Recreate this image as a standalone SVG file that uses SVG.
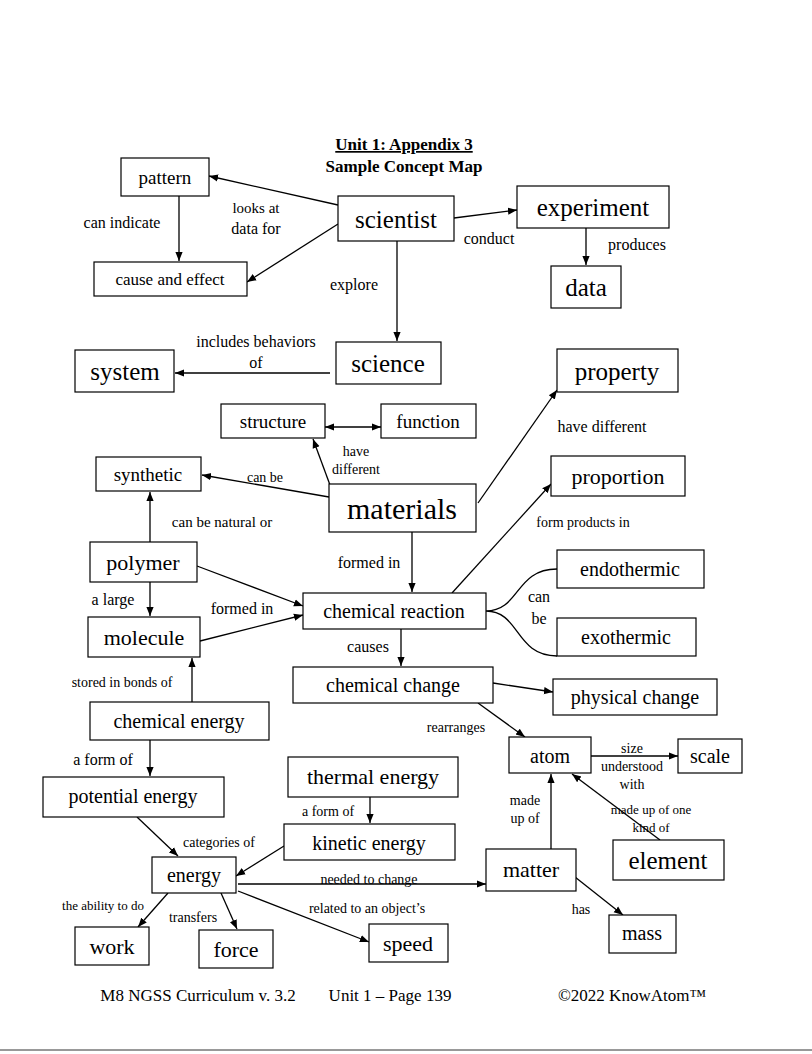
<svg xmlns="http://www.w3.org/2000/svg" width="812" height="1054" viewBox="0 0 812 1054">
<defs><marker id="a" viewBox="0 0 10 10" refX="10" refY="5" markerWidth="7" markerHeight="7" orient="auto-start-reverse"><path d="M0,1 L10,5 L0,9 z" fill="#000"/></marker></defs>
<style>
text{font-family:"Liberation Serif","DejaVu Serif",serif;fill:#000;text-anchor:middle}
.n rect{fill:#fff;stroke:#000;stroke-width:1.2}
.l{font-size:15px}
#c line,#c path{stroke:#000;stroke-width:1.3;fill:none}
#c line{marker-end:url(#a)}
</style>
<rect width="812" height="1054" fill="#fff"/>
<text x="404" y="150" font-size="17" font-weight="bold" text-decoration="underline">Unit 1: Appendix 3</text>
<text x="404" y="172" font-size="17" font-weight="bold">Sample Concept Map</text>
<g id="c">
<line x1="338" y1="205" x2="209" y2="176"/>
<line x1="338" y1="224" x2="247" y2="282"/>
<line x1="454" y1="218" x2="517" y2="210"/>
<line x1="586" y1="228" x2="586" y2="265"/>
<line x1="179" y1="196" x2="179" y2="261"/>
<line x1="397" y1="241" x2="397" y2="341"/>
<line x1="330" y1="373" x2="175" y2="373"/>
<line x1="325" y1="427" x2="381" y2="427" marker-start="url(#a)"/>
<line x1="330" y1="485" x2="313" y2="439"/>
<line x1="329" y1="497" x2="202" y2="475"/>
<line x1="478" y1="503" x2="557" y2="390"/>
<line x1="412" y1="532" x2="412" y2="592"/>
<line x1="452" y1="593" x2="551" y2="484"/>
<line x1="150" y1="542" x2="150" y2="492"/>
<line x1="150" y1="582" x2="150" y2="616"/>
<line x1="197" y1="566" x2="303" y2="606"/>
<line x1="200" y1="641" x2="303" y2="615"/>
<line x1="192" y1="702" x2="192" y2="658"/>
<line x1="401" y1="629" x2="401" y2="666"/>
<line x1="493" y1="683" x2="553" y2="692"/>
<line x1="478" y1="703" x2="525" y2="737"/>
<line x1="150" y1="740" x2="150" y2="776"/>
<line x1="591" y1="756" x2="678" y2="756"/>
<line x1="551" y1="849" x2="551" y2="774"/>
<line x1="660" y1="840" x2="572" y2="774"/>
<line x1="370" y1="797" x2="370" y2="823"/>
<line x1="137" y1="817" x2="178" y2="856"/>
<line x1="284" y1="846" x2="236" y2="876"/>
<line x1="238" y1="884" x2="486" y2="884"/>
<line x1="575" y1="877" x2="623" y2="915"/>
<line x1="168" y1="893" x2="138" y2="927"/>
<line x1="221" y1="893" x2="237" y2="929"/>
<line x1="238" y1="891" x2="369" y2="942"/>
<path d="M486,611 C520,611 515,569 557,569 M486,611 C520,611 515,656 557,656"/>
</g>
<g id="pattern" class="n"><rect x="121" y="158" width="88" height="38"/><text x="165" y="184" font-size="19">pattern</text></g>
<g id="scientist" class="n"><rect x="338" y="196" width="116" height="45"/><text x="396" y="228" font-size="25">scientist</text></g>
<g id="experiment" class="n"><rect x="517" y="186" width="152" height="42"/><text x="593" y="216" font-size="25">experiment</text></g>
<g id="data" class="n"><rect x="551" y="266" width="70" height="42"/><text x="586" y="296" font-size="25">data</text></g>
<g id="cause" class="n"><rect x="94" y="262" width="153" height="34"/><text x="170" y="285" font-size="17">cause and effect</text></g>
<g id="science" class="n"><rect x="336" y="342" width="105" height="42"/><text x="388" y="372" font-size="25">science</text></g>
<g id="system" class="n"><rect x="75" y="350" width="99" height="42"/><text x="125" y="380" font-size="25">system</text></g>
<g id="property" class="n"><rect x="557" y="349" width="121" height="43"/><text x="617" y="380" font-size="25">property</text></g>
<g id="structure" class="n"><rect x="221" y="404" width="104" height="34"/><text x="273" y="428" font-size="19">structure</text></g>
<g id="function" class="n"><rect x="381" y="404" width="95" height="34"/><text x="428" y="428" font-size="19">function</text></g>
<g id="synthetic" class="n"><rect x="96" y="457" width="105" height="34"/><text x="148" y="481" font-size="19">synthetic</text></g>
<g id="materials" class="n"><rect x="329" y="484" width="147" height="48"/><text x="402" y="519" font-size="30">materials</text></g>
<g id="proportion" class="n"><rect x="551" y="456" width="134" height="40"/><text x="618" y="484" font-size="22">proportion</text></g>
<g id="polymer" class="n"><rect x="90" y="542" width="107" height="40"/><text x="143" y="570" font-size="22">polymer</text></g>
<g id="endothermic" class="n"><rect x="557" y="550" width="147" height="38"/><text x="630" y="576" font-size="20">endothermic</text></g>
<g id="reaction" class="n"><rect x="303" y="593" width="183" height="36"/><text x="394" y="618" font-size="20">chemical reaction</text></g>
<g id="exothermic" class="n"><rect x="557" y="618" width="139" height="38"/><text x="626" y="644" font-size="20">exothermic</text></g>
<g id="molecule" class="n"><rect x="88" y="617" width="112" height="40"/><text x="144" y="645" font-size="22">molecule</text></g>
<g id="change" class="n"><rect x="293" y="667" width="200" height="36"/><text x="393" y="692" font-size="20">chemical change</text></g>
<g id="physical" class="n"><rect x="553" y="679" width="164" height="36"/><text x="635" y="704" font-size="20">physical change</text></g>
<g id="chemenergy" class="n"><rect x="90" y="702" width="179" height="38"/><text x="179" y="728" font-size="20">chemical energy</text></g>
<g id="atom" class="n"><rect x="509" y="737" width="82" height="36"/><text x="550" y="763" font-size="20">atom</text></g>
<g id="scale" class="n"><rect x="678" y="739" width="64" height="34"/><text x="710" y="763" font-size="20">scale</text></g>
<g id="potential" class="n"><rect x="43" y="777" width="181" height="40"/><text x="133" y="803" font-size="20">potential energy</text></g>
<g id="thermal" class="n"><rect x="288" y="757" width="170" height="40"/><text x="373" y="784" font-size="22">thermal energy</text></g>
<g id="kinetic" class="n"><rect x="284" y="824" width="171" height="36"/><text x="369" y="850" font-size="20">kinetic energy</text></g>
<g id="energy" class="n"><rect x="152" y="857" width="84" height="36"/><text x="194" y="882" font-size="20">energy</text></g>
<g id="matter" class="n"><rect x="486" y="849" width="90" height="42"/><text x="531" y="877" font-size="22">matter</text></g>
<g id="element" class="n"><rect x="613" y="840" width="111" height="40"/><text x="668" y="869" font-size="25">element</text></g>
<g id="work" class="n"><rect x="75" y="927" width="74" height="38"/><text x="112" y="954" font-size="22">work</text></g>
<g id="force" class="n"><rect x="199" y="930" width="74" height="38"/><text x="236" y="957" font-size="22">force</text></g>
<g id="speed" class="n"><rect x="369" y="924" width="79" height="38"/><text x="408" y="951" font-size="22">speed</text></g>
<g id="mass" class="n"><rect x="609" y="915" width="67" height="38"/><text x="642" y="940" font-size="20">mass</text></g>
<g id="labels">
<text class="l" x="256" y="213" font-size="16">looks at</text><text x="256" y="234" font-size="16">data for</text>
<text x="122" y="228" font-size="16">can indicate</text>
<text x="489" y="244" font-size="16">conduct</text>
<text x="637" y="250" font-size="16">produces</text>
<text x="354" y="290" font-size="16">explore</text>
<text x="256" y="347" font-size="16">includes behaviors</text><text x="256" y="368" font-size="16">of</text>
<text x="602" y="432" font-size="16">have different</text>
<text x="356" y="456" font-size="14">have</text><text x="356" y="474" font-size="14">different</text>
<text x="265" y="482" font-size="14">can be</text>
<text x="222" y="527" font-size="15">can be natural or</text>
<text x="583" y="527" font-size="14">form products in</text>
<text x="369" y="568" font-size="16">formed in</text>
<text x="113" y="605" font-size="16">a large</text>
<text x="242" y="614" font-size="16">formed in</text>
<text x="539" y="602" font-size="16">can</text><text x="539" y="624" font-size="16">be</text>
<text x="368" y="652" font-size="16">causes</text>
<text x="122" y="687" font-size="14">stored in bonds of</text>
<text x="456" y="732" font-size="14">rearranges</text>
<text x="632" y="753" font-size="14">size</text><text x="632" y="771" font-size="14">understood</text><text x="632" y="789" font-size="14">with</text>
<text x="103" y="765" font-size="16">a form of</text>
<text x="328" y="816" font-size="14">a form of</text>
<text x="525" y="805" font-size="14">made</text><text x="525" y="823" font-size="14">up of</text>
<text x="651" y="814" font-size="13">made up of one</text><text x="651" y="832" font-size="13">kind of</text>
<text x="219" y="847" font-size="14">categories of</text>
<text x="369" y="884" font-size="14">needed to change</text>
<text x="103" y="910" font-size="13">the ability to do</text>
<text x="193" y="922" font-size="14">transfers</text>
<text x="367" y="913" font-size="14">related to an object’s</text>
<text x="581" y="914" font-size="14">has</text>
</g>
<text x="198" y="1001" font-size="17">M8 NGSS Curriculum v. 3.2</text>
<text x="390" y="1001" font-size="17">Unit 1 – Page 139</text>
<text x="632" y="1001" font-size="17">©2022 KnowAtom™</text>
<line x1="0" y1="1050" x2="812" y2="1050" stroke="#333" stroke-width="1"/>
</svg>
